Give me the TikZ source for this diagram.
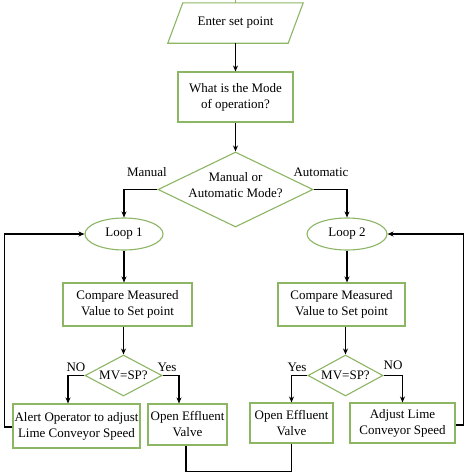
\documentclass[tikz,border=0pt]{standalone}
\usepackage{fontspec}
\setmainfont{Liberation Serif}
\usetikzlibrary{shapes.geometric,arrows.meta}
\definecolor{boxgreen}{RGB}{140,182,100}
\begin{document}
\begin{tikzpicture}[x=1pt,y=-1pt,
  every node/.style={font=\fontsize{13}{16}\selectfont},
  shp/.style={draw=boxgreen,line width=1.1pt,fill=white,align=center,inner sep=1pt},
  box/.style={shp,rectangle},
  dec/.style={shp,diamond,inner sep=0pt},
  oval/.style={shp,ellipse,inner sep=0pt},
  txt/.style={align=center,inner sep=0pt},
  conn/.style={draw=black,line width=1.1pt},
  arr/.style={conn,-{Stealth[length=6pt,width=5pt]}},
  lbl/.style={inner sep=0pt}]
\useasboundingbox (0,0) rectangle (474,474);
\fill[white] (0,0) rectangle (474,474);

% parallelogram
\node[rectangle,minimum width=120,minimum height=40,inner sep=0pt] (start) at (235.5,23) {};
\draw[draw=boxgreen,line width=1.1pt,fill=white]
  ([xshift=-7.5pt]start.south west) -- ([xshift=7.5pt]start.north west) --
  ([xshift=7.5pt]start.north east) -- ([xshift=-7.5pt]start.south east) -- cycle;
\node[txt] (starttxt) at (start) {Enter set point};
\coordinate (topc) at (235.5,0);

\node[box,minimum width=115,minimum height=50] (mode) at (235.5,97) {What is the Mode\\of operation?};

\node[dec,aspect=2.07,minimum width=155,minimum height=75] (dia) at (235.5,189.5) {};
\node[txt] (diatxt) at (235.5,185) {Manual or\\Automatic Mode?};

\node[oval,minimum width=78,minimum height=32] (loop1) at (124,234) {Loop 1};
\node[oval,minimum width=80,minimum height=32] (loop2) at (347,234) {Loop 2};
\node[box,minimum width=129,minimum height=43] (cmp1) at (127.5,304.5) {Compare Measured\\Value to Set point};
\node[box,minimum width=127,minimum height=43] (cmp2) at (341.5,304.5) {Compare Measured\\Value to Set point};

\node[dec,aspect=1.88,minimum width=77,minimum height=41] (dec1) at (123.5,375.5) {};
\node[txt] (dec1txt) at (dec1) {MV=SP?};
\node[dec,aspect=1.83,minimum width=75,minimum height=41] (dec2) at (345.5,375.5) {};
\node[txt] (dec2txt) at (dec2) {MV=SP?};

\node[box,minimum width=127,minimum height=44] (alert) at (76.5,426) {Alert Operator to adjust\\Lime Conveyor Speed};
\node[box,minimum width=79,minimum height=41] (open1) at (187.5,424.5) {Open Effluent\\Valve};
\node[box,minimum width=83,minimum height=40] (open2) at (291.5,423) {Open Effluent\\Valve};
\node[box,minimum width=105,minimum height=40] (adjust) at (402.5,423) {Adjust Lime\\Conveyor Speed};

\node[lbl] (lman) at (147,172) {Manual};
\node[lbl] (lauto) at (321,172) {Automatic};
\node[lbl] (lno1) at (76,367) {NO};
\node[lbl] (lyes1) at (167,367) {Yes};
\node[lbl] (lyes2) at (297,367) {Yes};
\node[lbl] (lno2) at (393,365) {NO};

\draw[draw=boxgreen,line width=1.1pt] (topc) -- (start.north);
\draw[arr] (start.south) -- (mode.north);
\draw[arr] (mode.south) -- (dia.north);
\draw[arr] (dia.west) -| (loop1.north);
\draw[arr] (dia.east) -| (loop2.north);
\draw[arr] (loop1.south) -- (loop1 |- cmp1.north);
\draw[arr] (loop2.south) -- (loop2 |- cmp2.north);
\draw[arr] (dec1 |- cmp1.south) -- (dec1.north);
\draw[arr] (dec2 |- cmp2.south) -- (dec2.north);
\draw[arr] (dec1.west) -| ([xshift=-8.5pt]alert.north);
\draw[arr] (dec1.east) -| ([xshift=-8.5pt]open1.north);
\draw[arr] (dec2.west) -| (open2.north);
\draw[arr] (dec2.east) -| (adjust.north);
\draw[arr] ([yshift=-1pt]alert.west) -- ++(-8,0) |- (loop1.west);
\draw[arr] ([yshift=-2pt]adjust.east) -- ++(8,0) |- (loop2.east);
\draw[conn,line width=1.8pt] ([xshift=-1.5pt]open1.south) -- ++(0,26) -| (open2.south);
\end{tikzpicture}
\end{document}
